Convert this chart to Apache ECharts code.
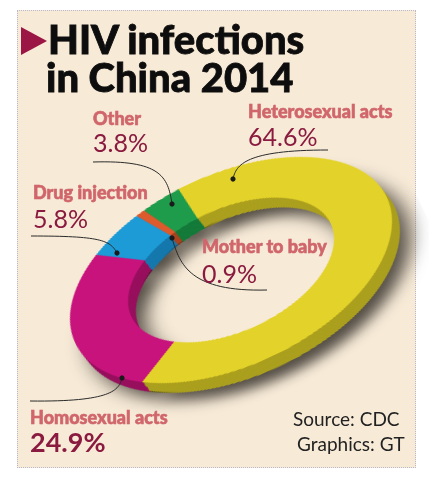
<!DOCTYPE html>
<html>
<head>
<meta charset="utf-8">
<script src="https://cdn.jsdelivr.net/npm/echarts@6/dist/echarts.min.js"></script>
<style>
  html, body { margin:0; padding:0; width:429px; height:500px; overflow:hidden; background:#ffffff; }
  #panel { position:absolute; left:17px; top:10px; width:397px; height:456px; background:#f7ead7; border:1px dotted #b9b9cc; }
  #ring { position:absolute; }
  #overlay { position:absolute; left:0; top:0; width:429px; height:500px; }
</style>
</head>
<body>
<div id="panel"></div>
<div id="ring"></div>
<div id="overlay"></div>
<script>
// ---- data ----
const categories = ['Heterosexual acts', 'Homosexual acts', 'Drug injection', 'Mother to baby', 'Other'];
const values = [64.6, 24.9, 5.8, 0.9, 3.8];
const faceColors = ['#e3d22a', '#c9137c', '#1c9bd7', '#dc5a2c', '#1f9b4c'];
const wallColors = ['#ab9f1e', '#980f5e', '#1578ad', '#a9421f', '#137a39'];
const titleLines = ['HIV infections', 'in China 2014'];
const sourceLines = ['Source: CDC', 'Graphics: GT'];

// ---- ring (pie drawn by ECharts, tilted with a CSS transform) ----
const BOX_W = 400, BOX_H = 430, CX = 200, CY = 190;
const R_OUT = 172, R_IN = 110;
const FACE_X = 231, FACE_Y = 270;
const TILT = -25, SQUASH = 0.556;
const DEPTH_X = 3, DEPTH_Y = 22, LAYERS = 10;

const ringDiv = document.getElementById('ring');
ringDiv.style.width = BOX_W + 'px';
ringDiv.style.height = BOX_H + 'px';
ringDiv.style.left = (FACE_X - CX) + 'px';
ringDiv.style.top = (FACE_Y - CY) + 'px';
ringDiv.style.transformOrigin = CX + 'px ' + CY + 'px';
ringDiv.style.transform = 'rotate(' + TILT + 'deg) scaleY(' + SQUASH + ')';

function pieData(colors) {
  return categories.map((c, i) => ({ name: c, value: values[i], itemStyle: { color: colors[i] } }));
}
const ringSeries = [];
for (let k = LAYERS; k >= 1; k--) {
  const s = {
    type: 'pie', silent: true, animation: false,
    center: [CX + DEPTH_X * k / LAYERS, CY + DEPTH_Y * k / LAYERS],
    radius: [R_IN, R_OUT], startAngle: 94.5, clockwise: true,
    label: { show: false }, labelLine: { show: false },
    itemStyle: { borderWidth: 0 },
    data: pieData(wallColors)
  };
  if (k === LAYERS) {
    s.itemStyle = { borderWidth: 0, shadowColor: 'rgba(30,25,20,0.75)', shadowBlur: 22, shadowOffsetX: 6, shadowOffsetY: 20 };
  }
  ringSeries.push(s);
}
ringSeries.push({
  type: 'pie', silent: true, animation: false,
  center: [CX, CY], radius: [R_IN, R_OUT], startAngle: 94.5, clockwise: true,
  label: { show: false }, labelLine: { show: false },
  itemStyle: { borderWidth: 0 },
  data: pieData(faceColors)
});
const ringChart = echarts.init(ringDiv, null, { renderer: 'canvas', devicePixelRatio: 2 });
ringChart.setOption({ animation: false, series: ringSeries });

// ---- overlay: title, labels, leader lines ----
const nameColor = '#d0666b', valueColor = '#8a1a3f';
const labelLayout = [
  { nx: 248, ny: 102, vy: 123, vf: '25px Lato', line: [328,150, 245,150, 236,165, 233,179] },
  { nx: 30,  ny: 408, vy: 428, vf: 'bold 27px Lato', line: [30,401, 112,402, 119,390, 122,378] },
  { nx: 33,  ny: 183, vy: 205, vf: '25px Lato', line: [31,236, 100,236, 110,240, 117,253] },
  { nx: 202, ny: 237, vy: 260, vf: '25px Lato', line: [267,290, 190,292, 180,265, 172,238] },
  { nx: 93,  ny: 109, vy: 129, vf: '25px Lato', line: [93,162, 160,160, 168,176, 172,204] }
];
const g = [];
g.push({ type: 'polygon', shape: { points: [[21,27],[47,41],[21,55]] }, style: { fill: '#9b1644' } });
g.push({ type: 'text', x: 48, y: 19, style: { text: titleLines[0], font: '900 40px Lato', fill: '#0d0d0d', stroke: '#0d0d0d', lineWidth: 0.8, verticalAlign: 'top' } });
g.push({ type: 'text', x: 46, y: 57, style: { text: titleLines[1], font: '900 40px Lato', fill: '#0d0d0d', stroke: '#0d0d0d', lineWidth: 0.8, verticalAlign: 'top' } });

labelLayout.forEach((L, i) => {
  const p = L.line;
  g.push({ type: 'bezierCurve', shape: { x1: p[0], y1: p[1], cpx1: p[2], cpy1: p[3], cpx2: p[4], cpy2: p[5], x2: p[6], y2: p[7] },
           style: { stroke: '#2a2a2a', lineWidth: 1, fill: null } });
  g.push({ type: 'circle', shape: { cx: p[6], cy: p[7], r: 2.6 }, style: { fill: '#1a1a1a' } });
  g.push({ type: 'text', x: L.nx, y: L.ny, style: { text: categories[i], font: '900 18px Lato', fill: nameColor, stroke: nameColor, lineWidth: 0.6, verticalAlign: 'top' } });
  g.push({ type: 'text', x: L.nx, y: L.vy, style: { text: values[i].toFixed(1) + '%', font: L.vf, fill: valueColor, verticalAlign: 'top' } });
});

g.push({ type: 'text', x: 293, y: 409, style: { text: sourceLines[0], font: '19px Lato', fill: '#222', verticalAlign: 'top' } });
g.push({ type: 'text', x: 297, y: 434, style: { text: sourceLines[1], font: '19px Lato', fill: '#222', verticalAlign: 'top' } });

const overlay = echarts.init(document.getElementById('overlay'), null, { renderer: 'svg' });
overlay.setOption({ animation: false, backgroundColor: 'transparent', graphic: { elements: g } });
</script>
</body>
</html>
